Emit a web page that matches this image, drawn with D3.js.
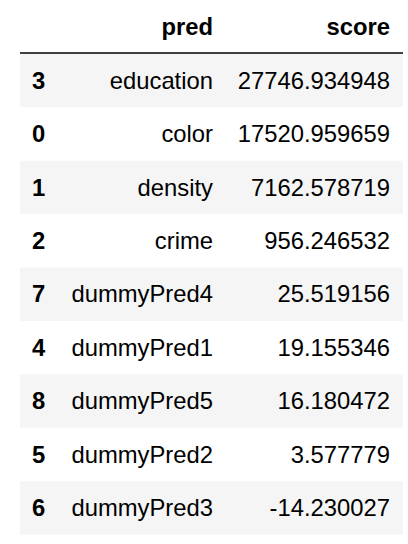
<!DOCTYPE html>
<html>
<head>
<meta charset="utf-8">
<script src="https://cdn.jsdelivr.net/npm/d3@7"></script>
<style>
  body { margin: 0; background: #fff; }
  text { font-family: "Liberation Sans", Arial, sans-serif; font-size: 23.8px; fill: #000; }
  .bold { font-weight: bold; }
</style>
</head>
<body>
<script>
// table data
const indexLabels = ["3", "0", "1", "2", "7", "4", "8", "5", "6"];
const preds = ["education", "color", "density", "crime", "dummyPred4", "dummyPred1", "dummyPred5", "dummyPred2", "dummyPred3"];
const scores = ["27746.934948", "17520.959659", "7162.578719", "956.246532", "25.519156", "19.155346", "16.180472", "3.577779", "-14.230027"];
const columns = ["pred", "score"];

const w = 408, h = 544;
const left = 20, right = 403;
const headerLine = 53;
const rowH = 53.4;

const svg = d3.select("body").append("svg")
  .attr("width", w)
  .attr("height", h);

const y = d3.scaleBand()
  .domain(d3.range(indexLabels.length))
  .range([headerLine + 1, headerLine + 1 + rowH * indexLabels.length])
  .padding(0);

// striped rows
svg.selectAll("rect.row")
  .data(indexLabels)
  .enter()
  .append("rect")
  .attr("x", left)
  .attr("y", (d, i) => y(i))
  .attr("width", right - left)
  .attr("height", y.bandwidth())
  .attr("fill", (d, i) => i % 2 === 0 ? "#f5f5f5" : "#fff");

// header line
svg.append("line")
  .attr("x1", left).attr("x2", right)
  .attr("y1", headerLine).attr("y2", headerLine)
  .attr("stroke", "#000")
  .attr("stroke-width", 1.5);

// column right edges
const colX = [213, 390];

svg.selectAll("text.head")
  .data(columns)
  .enter()
  .append("text")
  .attr("class", "bold")
  .attr("x", (d, i) => colX[i])
  .attr("y", 35)
  .attr("text-anchor", "end")
  .text(d => d);

const rows = svg.selectAll("g.row")
  .data(indexLabels)
  .enter()
  .append("g")
  .attr("transform", (d, i) => `translate(0,${y(i) + y.bandwidth() / 2 + 8})`);

rows.append("text")
  .attr("class", "bold")
  .attr("x", 32)
  .text(d => d);

rows.append("text")
  .attr("x", colX[0])
  .attr("text-anchor", "end")
  .text((d, i) => preds[i]);

rows.append("text")
  .attr("x", colX[1])
  .attr("text-anchor", "end")
  .text((d, i) => scores[i]);
</script>
</body>
</html>
